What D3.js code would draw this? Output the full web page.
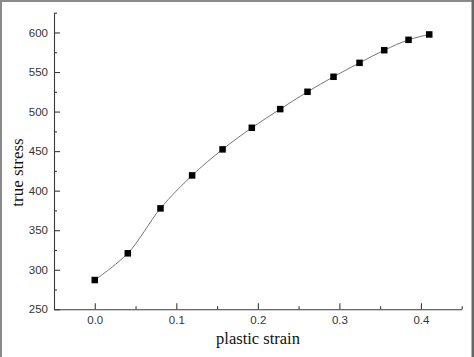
<!DOCTYPE html>
<html>
<head>
<meta charset="utf-8">
<script src="https://cdn.jsdelivr.net/npm/d3@7/dist/d3.min.js"></script>
<style>
  body { margin: 0; background: #fff; }
  svg { display: block; }
</style>
</head>
<body>
<div id="chart"></div>
<script>
var width  = 474;
var height = 357;

// Data
var strain = [0.0, 0.0405, 0.0806, 0.1194, 0.1567, 0.1926, 0.2274, 0.2609, 0.2928, 0.3247, 0.355, 0.3848, 0.4102];
var stress = [287, 320.8, 377.6, 419.3, 452.2, 479.5, 503.1, 525, 544, 561.6, 577.6, 590.7, 597.5];
var xTicks = [0.0, 0.1, 0.2, 0.3, 0.4];
var yTicks = [250, 300, 350, 400, 450, 500, 550, 600];

// Plot area
var m = { left: 54, right: 461.7, top: 12.7, bottom: 309.3 };

var x = d3.scaleLinear().domain([-0.05, 0.45]).range([m.left, m.right]);
var y = d3.scaleLinear().domain([250, 625]).range([m.bottom, m.top]);

var svg = d3.select('#chart')
            .append('svg')
            .attr('width', width)
            .attr('height', height);

// Frame around the picture (gray on top, left and right)
svg.append('rect').attr('x', 0).attr('y', 0).attr('width', width).attr('height', 2).attr('fill', '#8a8a8a');
svg.append('rect').attr('x', 0).attr('y', 0).attr('width', 2).attr('height', height).attr('fill', '#8a8a8a');
svg.append('rect').attr('x', 471.5).attr('y', 0).attr('width', 2.5).attr('height', height).attr('fill', '#666');

var axisColor = '#3a3a3a';

// X axis: major ticks pointing up, minor ticks in between
var xAxis = svg.append('g')
  .attr('transform', 'translate(0,' + m.bottom + ')')
  .call(d3.axisBottom(x).tickValues(xTicks).tickSizeInner(-6).tickSizeOuter(0)
          .tickFormat(d3.format('.1f')));
svg.append('g')
  .attr('transform', 'translate(0,' + m.bottom + ')')
  .call(d3.axisBottom(x).tickValues([0.05, 0.15, 0.25, 0.35, 0.45]).tickSizeInner(-3)
          .tickSizeOuter(0).tickFormat(''))
  .select('.domain').remove();

// Y axis: ticks pointing right
var yAxis = svg.append('g')
  .attr('transform', 'translate(' + m.left + ',0)')
  .call(d3.axisLeft(y).tickValues(yTicks).tickSizeInner(-6).tickSizeOuter(0));
svg.append('g')
  .attr('transform', 'translate(' + m.left + ',0)')
  .call(d3.axisLeft(y).tickValues([275, 325, 375, 425, 475, 525, 575, 625]).tickSizeInner(-3)
          .tickSizeOuter(0).tickFormat(''))
  .select('.domain').remove();

svg.selectAll('.domain, .tick line')
   .attr('stroke', axisColor)
   .attr('stroke-width', 1.1);

xAxis.selectAll('.tick text').attr('y', 7).attr('dy', '0.71em');
svg.selectAll('.tick text')
   .attr('fill', '#333')
   .style('font-family', '"Liberation Sans", Arial, sans-serif')
   .style('font-size', '11.5px');
// the y labels sit a bit left of the default
yAxis.selectAll('.tick text').attr('x', -6);

// Axis titles
svg.append('text')
   .attr('x', 258)
   .attr('y', 344)
   .attr('text-anchor', 'middle')
   .style('font-family', '"Liberation Serif", "Times New Roman", serif')
   .style('font-size', '16.5px')
   .attr('fill', '#111')
   .text('plastic strain');

svg.append('text')
   .attr('transform', 'translate(23,172.5)rotate(-90)')
   .attr('text-anchor', 'middle')
   .style('font-family', '"Liberation Serif", "Times New Roman", serif')
   .style('font-size', '17px')
   .attr('fill', '#111')
   .text('true stress');

// Fitted curve through the points
var pts = strain.map(function(d, i) { return [d, stress[i]]; });
var line = d3.line()
  .x(function(d) { return x(d[0]); })
  .y(function(d) { return y(d[1]); })
  .curve(d3.curveCatmullRom.alpha(0.5));

svg.append('path')
   .datum(pts)
   .attr('d', line)
   .attr('fill', 'none')
   .attr('stroke', '#666')
   .attr('stroke-width', 0.9);

// Square markers
var s = 6.5;
svg.selectAll('rect.pt')
   .data(pts)
   .enter()
   .append('rect')
   .attr('class', 'pt')
   .attr('x', function(d) { return x(d[0]) - s / 2; })
   .attr('y', function(d) { return y(d[1]) - s / 2; })
   .attr('width', s)
   .attr('height', s)
   .attr('fill', '#000');
</script>
</body>
</html>
